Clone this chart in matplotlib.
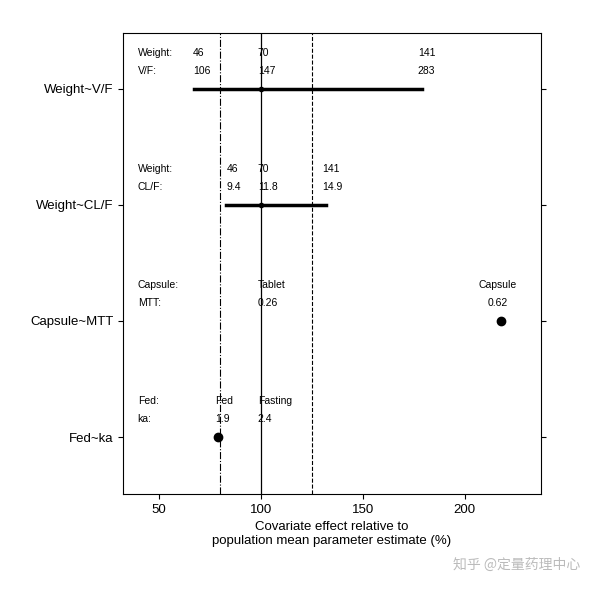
import matplotlib
matplotlib.use("Agg")
import matplotlib.pyplot as plt
plt.rcParams['font.family'] = ['Liberation Sans', 'DejaVu Sans']

labels = ["Weight~V/F", "Weight~CL/F", "Capsule~MTT", "Fed~ka"]
ypos = [4, 3, 2, 1]
lo = [67, 82.8, None, None]
hi = [179, 132, None, None]
pt = [100, 100, 218, 79]

ann = [
    (4, "Weight:", [(66.5, "46"), (98.5, "70"), (177, "141")], "V/F:", [(66.5, "106"), (98.5, "147"), (177, "283")]),
    (3, "Weight:", [(83, "46"), (98.5, "70"), (130, "141")], "CL/F:", [(83, "9.4"), (98.5, "11.8"), (130, "14.9")]),
    (2, "Capsule:", [(98.5, "Tablet"), (206.5, "Capsule")], "MTT:", [(98.5, "0.26"), (211, "0.62")]),
    (1, "Fed:", [(77.5, "Fed"), (98.5, "Fasting")], "ka:", [(77.5, "1.9"), (98.5, "2.4")]),
]

fig = plt.figure(figsize=(5.98, 5.89), dpi=100)
ax = fig.add_axes([0.2057, 0.1613, 0.699, 0.783])
ax.axvline(100, color="black", lw=0.9)
ax.axvline(80, color="black", lw=0.8, ls="-.")
ax.axvline(125, color="black", lw=0.8, ls="--")
for y, l, h, p in zip(ypos, lo, hi, pt):
    if l is not None:
        ax.plot([l, h], [y, y], color="black", lw=2.5)
        ax.plot(p, y, "o", color="black", ms=3)
    else:
        ax.plot(p, y, "o", color="black", ms=6)
for y, r1, t1, r2, t2 in ann:
    ax.text(39.5, y + 0.31, r1, fontsize=7.5, va="center")
    for x, t in t1:
        ax.text(x, y + 0.31, t, fontsize=7.5, va="center")
    ax.text(39.5, y + 0.155, r2, fontsize=7.5, va="center")
    for x, t in t2:
        ax.text(x, y + 0.155, t, fontsize=7.5, va="center")
ax.set_xlim(32.3, 237.4)
ax.set_ylim(0.51, 4.48)
ax.set_yticks(ypos)
ax.set_yticklabels(labels, fontsize=9.5)
ax.set_xticks([50, 100, 150, 200])
ax.tick_params(axis="x", labelsize=9.5)
ax.tick_params(axis="y", right=True, left=True)
ax.set_xlabel("Covariate effect relative to\npopulation mean parameter estimate (%)", fontsize=9.5)
fig.text(0.97, 0.035, "知乎 @定量药理中心", fontsize=10, color="#bbbbbb", ha="right",
         family=["Noto Sans CJK SC", "DejaVu Sans"])
fig.savefig("out.png", dpi=100)
